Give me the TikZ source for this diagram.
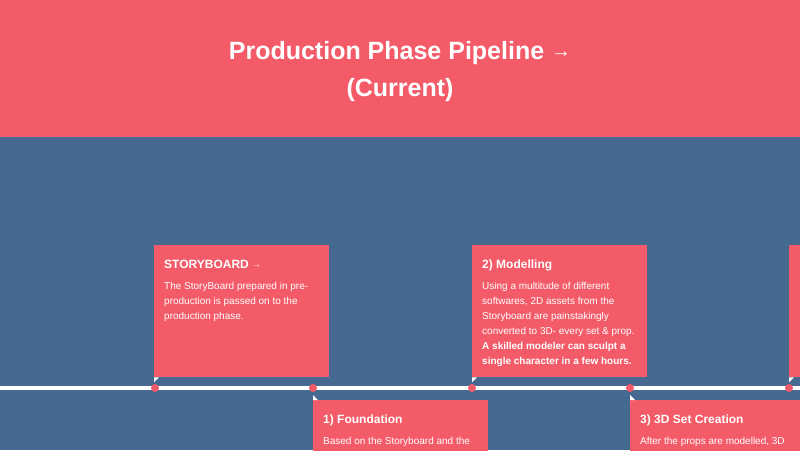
\documentclass[tikz,border=0pt]{standalone}
\usepackage{fontspec}
\setmainfont{Liberation Sans}
\usepackage{xcolor}
\usepackage{tikz}
\usetikzlibrary{positioning}
\definecolor{coral}{HTML}{F45B69}
\definecolor{slate}{HTML}{456990}
\newcommand{\rarr}{\raisebox{0.12em}{\small →}}

\begin{document}
\begin{tikzpicture}[x = 1pt, y = -1pt,
				card/.style = {fill=coral, minimum width=175pt, minimum height=132pt, anchor=north west, inner sep=0pt},
				cardtext/.style = {anchor=north west, inner sep=0pt, align=left, text=white, font=\fontsize{10}{15}\selectfont},
				dot/.style = {circle, fill=coral, minimum size=8pt, inner sep=0pt}]
				\useasboundingbox (0,0) rectangle (800,450);
				\clip (0,0) rectangle (800,450);
				\fill[slate] (0,0) rectangle (800,450);
				\node[fill=coral, minimum width=800pt, minimum height=137pt, anchor=north west, inner sep=0pt] (banner) at (0,0) {};
				\node[text=white, align=center, font=\fontsize{25}{37}\selectfont\bfseries] (title) at (400,72) {Production Phase Pipeline {\fontsize{20}{20}\selectfont\mdseries\raisebox{0.12em}{→}}\\(Current)};
				\coordinate (tl-start) at (0,388);
				\coordinate (tl-end) at (800,388);
				\draw[white, line width=3.5pt] (tl-start) -- (tl-end);
				\node[card] (storyboard) at (154,245) {};
				\node[card] (foundation) at (313,400) {};
				\node[card] (modelling) at (472,245) {};
				\node[card] (setcreation) at (630,400) {};
				\node[card] (next) at (789,245) {};
				\foreach \x [count=\i] in {155,313,472,630,789}
					\node[dot] (d\i) at (\x,388) {};
				\foreach \c in {storyboard, modelling, next}
					\fill[white] (\c.south west) -- ++(5,0) -- ++(-5,5) -- cycle;
				\foreach \c in {foundation, setcreation}
					\fill[white] (\c.north west) -- ++(5,0) -- ++(-5,-5) -- cycle;
				\node[cardtext, below right=15pt and 10pt of storyboard.north west] (storyboard-txt)
					{{\fontsize{12}{15}\selectfont\bfseries STORYBOARD \rarr}\\[6pt]
					The StoryBoard prepared in pre-\\production is passed on to the\\production phase.};
				\node[cardtext, below right=15pt and 10pt of modelling.north west] (modelling-txt)
					{{\fontsize{12}{15}\selectfont\bfseries 2) Modelling}\\[6pt]
					Using a multitude of different\\softwares, 2D assets from the\\Storyboard are painstakingly\\converted to 3D- every set \& prop.\\
					\textbf{A skilled modeler can sculpt a}\\\textbf{single character in a few hours.}};
				\node[cardtext, below right=15pt and 10pt of foundation.north west] (foundation-txt)
					{{\fontsize{12}{15}\selectfont\bfseries 1) Foundation}\\[6pt]
					Based on the Storyboard and the};
				\node[cardtext, below right=15pt and 10pt of setcreation.north west] (setcreation-txt)
					{{\fontsize{12}{15}\selectfont\bfseries 3) 3D Set Creation}\\[6pt]
					After the props are modelled, 3D};
				\end{tikzpicture}
\end{document}
